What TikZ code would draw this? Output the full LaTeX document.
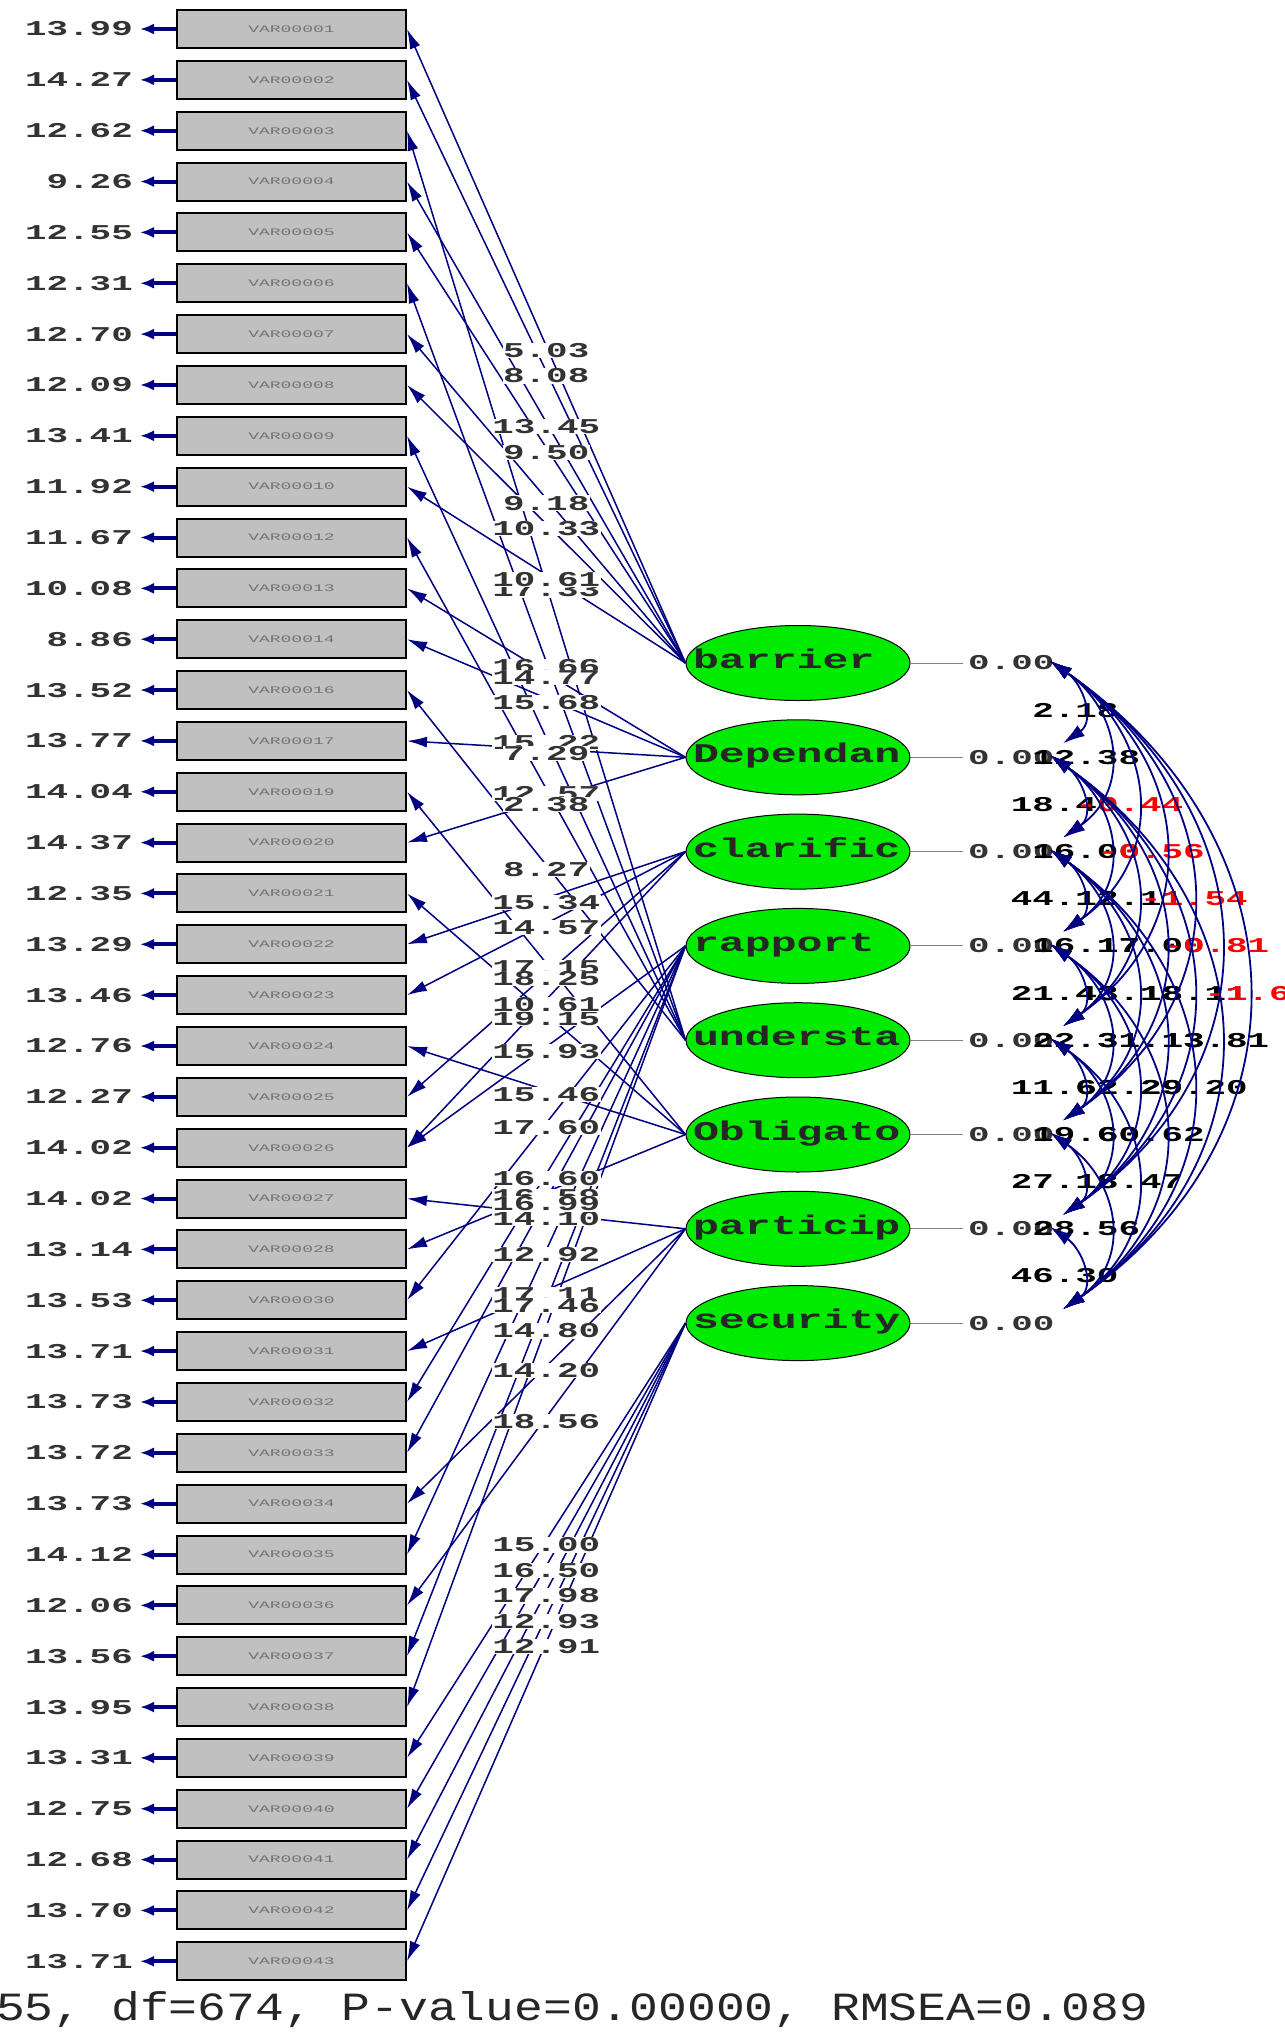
\documentclass[tikz,border=0pt]{standalone}
\usepackage{fontspec}
\usetikzlibrary{arrows.meta,shapes.geometric}
\newfontfamily\valfont[FakeStretch=1.7]{Liberation Mono}
\newfontfamily\latfont[FakeStretch=1.6]{Liberation Mono}
\newfontfamily\varfont[FakeStretch=1.8]{Liberation Mono}
\newfontfamily\fitfont[FakeStretch=1.2]{Liberation Mono}
\definecolor{lisnavy}{RGB}{0,0,128}
\definecolor{lisgreen}{RGB}{0,235,0}
\definecolor{boxgray}{RGB}{192,192,192}
\definecolor{lisred}{RGB}{255,0,0}
\tikzset{
  obsbox/.style={draw=black,line width=2pt,fill=boxgray,minimum width=229pt,minimum height=38pt,
    inner sep=0pt,font=\varfont\fontsize{10}{10}\selectfont,text=black!55},
  latent/.style={ellipse,draw=black,line width=1pt,fill=lisgreen,minimum width=224pt,minimum height=75pt,
    inner xsep=-26pt,inner ysep=0pt,text width=210pt,align=left,text height=16pt,text depth=5pt,
    font=\latfont\bfseries\fontsize{27}{27}\selectfont,text=black!85},
  numtext/.style={inner sep=0pt,font=\valfont\bfseries\fontsize{21.1}{21.1}\selectfont,text=black!80},
  errval/.style={numtext,anchor=east},
  tval/.style={numtext,fill=white,inner sep=0.5pt,yshift=-4.5pt},
  covval/.style={numtext,anchor=east},
  fixval/.style={numtext,anchor=west},
  errarrow/.style={draw=lisnavy,line width=4pt,shorten >=7pt,-{Latex[length=14pt,width=11pt]}},
  loadarrow/.style={draw=lisnavy,line width=1.5pt,-{Latex[length=20pt,width=11pt]}},
  covarrow/.style={draw=lisnavy,line width=1.8pt,{Latex[length=22pt,width=13pt]}-{Latex[length=22pt,width=13pt]}}
}
\begin{document}
\begin{tikzpicture}[x=1pt,y=-1pt]
  \useasboundingbox[fill=white] (0,0) rectangle (1285,2038);
  \foreach \j/\nm in {0/barrier,1/Dependan,2/clarific,3/rapport,4/understa,5/Obligato,6/particip,7/security}{
    \node[latent,alias=L\j] (\nm) at (798,{663+94.3*\j}) {\nm};
    \node[fixval] (\nm-fix) at (968,{663+94.3*\j}) {0.00};
    \draw[gray,line width=1pt,shorten >=5pt] (\nm.east) -- (\nm-fix.west);
    \coordinate (c\j-o) at (1050,{661+94.3*\j});
    \coordinate (c\j-i) at (1063,{649+94.3*\j});
  }
  \foreach \k/\var/\err/\lat in {1/VAR00001/13.99/0,2/VAR00002/14.27/0,3/VAR00003/12.62/4,
      4/VAR00004/9.26/0,5/VAR00005/12.55/0,6/VAR00006/12.31/4,7/VAR00007/12.70/0,
      8/VAR00008/12.09/0,9/VAR00009/13.41/4,10/VAR00010/11.92/0,11/VAR00012/11.67/4,
      12/VAR00013/10.08/1,13/VAR00014/8.86/1,14/VAR00016/13.52/4,15/VAR00017/13.77/1,
      16/VAR00019/14.04/5,17/VAR00020/14.37/1,18/VAR00021/12.35/5,19/VAR00022/13.29/2,
      20/VAR00023/13.46/2,21/VAR00024/12.76/5,22/VAR00025/12.27/2,23/VAR00026/14.02/2,
      24/VAR00027/14.02/6,25/VAR00028/13.14/5,26/VAR00030/13.53/3,27/VAR00031/13.71/6,
      28/VAR00032/13.73/3,29/VAR00033/13.72/3,30/VAR00034/13.73/6,31/VAR00035/14.12/3,
      32/VAR00036/12.06/6,33/VAR00037/13.56/3,34/VAR00038/13.95/3,35/VAR00039/13.31/7,
      36/VAR00040/12.75/7,37/VAR00041/12.68/7,38/VAR00042/13.70/7,39/VAR00043/13.71/7}{
    \node[obsbox] (v\k) at (291.5,{29+50.85*(\k-1)}) {\var};
    \node[errval] (e\k) at (133,{29+50.85*(\k-1)}) {\err};
    \draw[errarrow] (v\k.west) -- (e\k.east);
    \draw[loadarrow] (L\lat.west) -- (v\k.east);
  }
  \draw[loadarrow] (L3.west) -- (v23.east);
  \foreach \k/\lat/\tv in {1/0/5.03,2/0/8.08,3/4/17.33,4/0/13.45,5/0/9.50,6/4/16.66,7/0/9.18,
      8/0/10.33,9/4/15.22,10/0/10.61,11/4/12.57,12/1/14.77,13/1/15.68,14/4/8.27,15/1/7.29,
      16/5/17.15,17/1/2.38,18/5/19.15,19/2/15.34,20/2/14.57,21/5/15.46,22/2/18.25,23/2/10.61,
      23/3/15.93,24/6/14.10,25/5/16.59,26/3/17.60,27/6/17.11,28/3/16.60,29/3/16.99,30/6/14.20,
      31/3/12.92,32/6/18.56,33/3/17.46,34/3/14.80,35/7/15.00,36/7/16.50,37/7/17.98,
      38/7/12.93,39/7/12.91}{
    \path (L\lat.west) -- (v\k.east) node[tval,midway] (t\k-\lat) {\tv};
  }
  \foreach \i/\j/\tv/\col in {0/1/2.18/black,1/2/18.40/black,2/3/44.12/black,3/4/21.43/black,
      4/5/11.62/black,5/6/27.18/black,6/7/46.30/black,0/2/12.38/black,1/3/16.00/black,
      2/4/16.17/black,3/5/22.31/black,4/6/19.60/black,5/7/28.56/black,0/3/-0.44/lisred,
      1/4/12.11/black,2/5/43.18/black,3/6/62.29/black,4/7/18.47/black,0/4/-0.56/lisred,
      1/5/17.00/black,2/6/31.13/black,3/7/60.62/black,0/5/-1.54/lisred,1/6/18.11/black,
      2/7/29.20/black,0/6/-0.81/lisred,1/7/13.81/black,0/7/-1.61/lisred}{
    \pgfmathsetmacro\cl{floor(1.5*(\j-\i)+0.5)}
    \node[covval,text=\col] (cv\i\j) at ({968+21.53*(\cl+5)},{663+94.3*(\i+\j)/2}) {\tv};
  }
  \foreach \i/\j in {0/1,0/2,0/3,0/4,0/5,0/6,0/7,1/2,1/3,1/4,1/5,1/6,1/7,2/3,2/4,2/5,2/6,2/7,
      3/4,3/5,3/6,3/7,4/5,4/6,4/7,5/6,5/7,6/7}{
    \pgfmathsetmacro\L{40+45*(\j-\i-1)}
    \draw[covarrow] (c\i-o) .. controls +({0.82*\L},{0.57*\L}) and +({0.82*\L},{-0.57*\L}) .. (c\j-i);
  }
  \node[anchor=west,inner sep=0pt,font=\fitfont\fontsize{40}{40}\selectfont,text=black!85] (fit)
    at (-4,2010) {55, df=674, P-value=0.00000, RMSEA=0.089};
\end{tikzpicture}
\end{document}
